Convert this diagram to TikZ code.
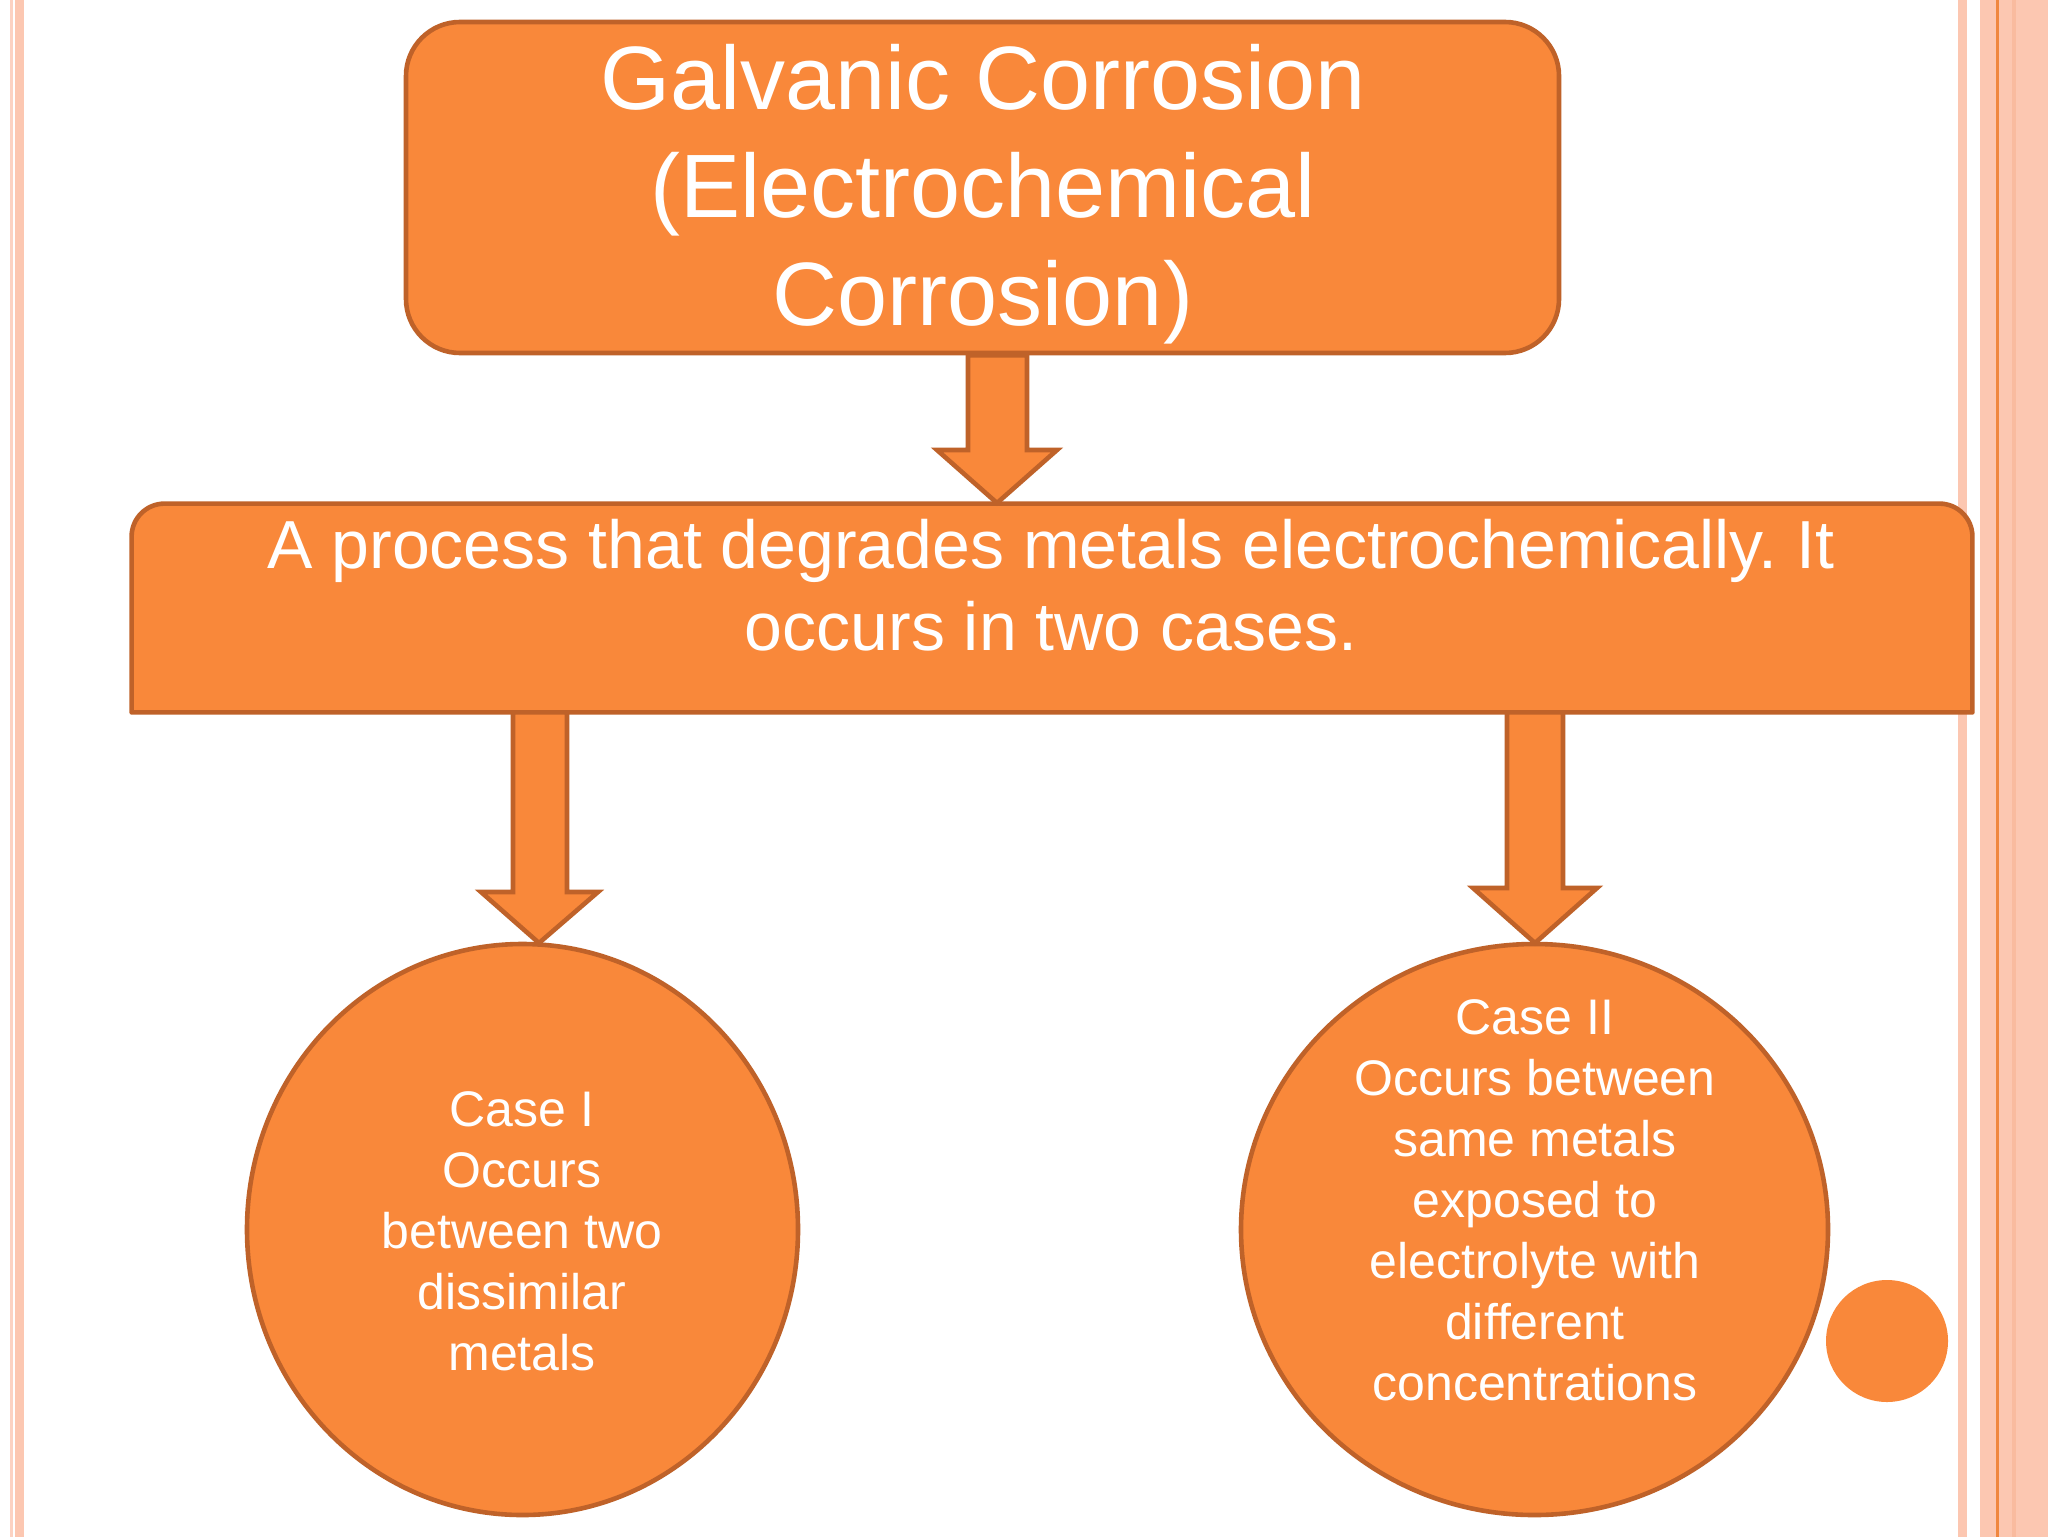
\documentclass[tikz,border=0pt]{standalone}
\usepackage{fontspec}
\setmainfont{Liberation Sans}
\usetikzlibrary{shapes.geometric,calc}
\definecolor{boxfill}{HTML}{F9883A}
\definecolor{boxline}{HTML}{BF6229}
\definecolor{salmon}{HTML}{FCC7B1}
\definecolor{salmonlight}{HTML}{FCD2C2}
\definecolor{salmondark}{HTML}{F9BB9F}
\definecolor{stripeline}{HTML}{F0873E}
\tikzset{
  shapebox/.style={fill=boxfill, draw=boxline, line width=2.3pt, line join=round},
  blockarrow/.style={fill=boxfill, draw=boxline, line width=2.3pt, line join=miter},
  whitetext/.style={text=white, align=center, inner sep=0pt},
}
\frenchspacing
\begin{document}
\begin{tikzpicture}[x=0.5pt, y=-0.5pt]
\useasboundingbox (0,0) rectangle (2048,1536);
\fill[white] (-5,-5) rectangle (2053,1541);
% side stripes
\fill[salmonlight] (10,-5) rectangle (13,1541);
\fill[salmon] (15,-5) rectangle (24,1541);
\fill[salmon] (1958,-5) rectangle (1967,1541);
\fill[salmon] (1980,-5) rectangle (2053,1541);
\fill[salmondark] (2012,-5) rectangle (2016,1541);
\fill[stripeline] (1995.5,-5) rectangle (1998.5,1541);
% top box
\node[shapebox, rounded corners=27pt, minimum width=576.5pt, minimum height=165.5pt, inner sep=0pt] (top) at (982.5,187.5) {};
\node[whitetext, font=\fontsize{45pt}{54pt}\selectfont] (toptext) at (983,194) {Galvanic Corrosion\\(Electrochemical\\Corrosion)};
% middle box (top corners rounded only)
\node[minimum width=920pt, minimum height=104pt, inner sep=0pt] (mid) at (1052,608) {};
\path[shapebox] (mid.south west) -- ($(mid.north west)+(0,33)$) arc[start angle=180, end angle=270, radius=33] -- ($(mid.north east)+(-33,0)$) arc[start angle=270, end angle=360, radius=33] -- (mid.south east) -- cycle;
\node[whitetext, font=\fontsize{34pt}{41pt}\selectfont] (midtext) at (1051,585) {A process that degrades metals electrochemically. It\\occurs in two cases.};
% circles
\node[ellipse, shapebox, minimum width=275.5pt, minimum height=285.5pt, inner sep=0pt] (c1) at (522.5,1229.5) {};
\node[ellipse, shapebox, minimum width=293.5pt, minimum height=285.5pt, inner sep=0pt] (c2) at (1534.5,1229.5) {};
\node[whitetext, font=\fontsize{25pt}{30.5pt}\selectfont] (c1text) at (522,1231) {Case I\\Occurs\\between two\\dissimilar\\metals};
\node[whitetext, font=\fontsize{25pt}{30.5pt}\selectfont] (c2text) at (1535,1200) {Case II\\Occurs between\\same metals\\exposed to\\electrolyte with\\different\\concentrations};
\node[circle, fill=boxfill, minimum size=61pt, inner sep=0pt] (dot) at (1887,1341) {};
% block arrows
\path[blockarrow] (968,0 |- top.south) -- (968,450) -- (937,450) -- (997,503) -- (1057,450) -- (1027,450) -- (1027,0 |- top.south) -- cycle;
\path[blockarrow] (513,0 |- mid.south) -- (513,892) -- (481,892) -- (539,943) -- (598,892) -- (567,892) -- (567,0 |- mid.south) -- cycle;
\path[blockarrow] (1507,0 |- mid.south) -- (1507,888) -- (1473,888) -- (1535,943) -- (1597,888) -- (1563,888) -- (1563,0 |- mid.south) -- cycle;
\end{tikzpicture}
\end{document}
